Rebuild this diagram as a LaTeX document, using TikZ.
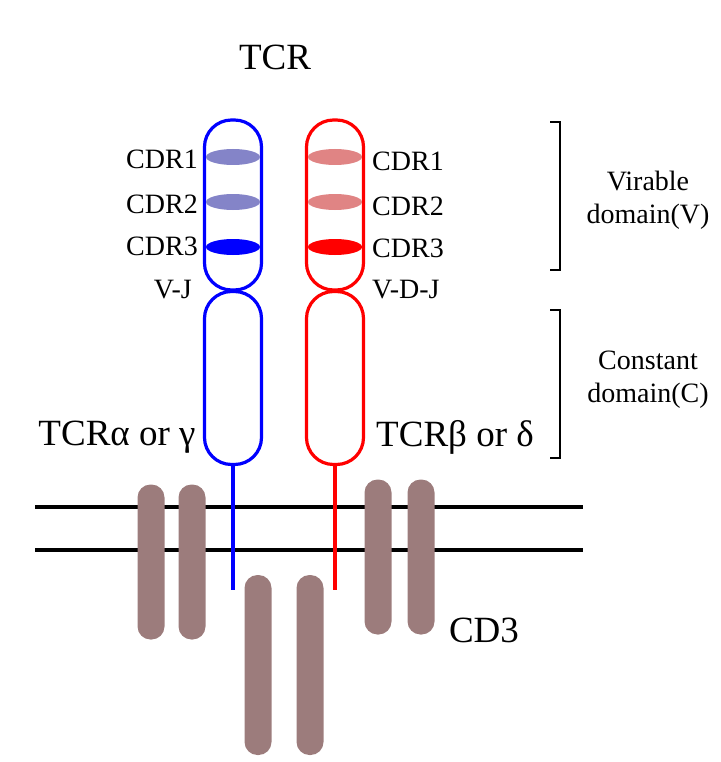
\documentclass[tikz,border=0pt]{standalone}
\usepackage{fontspec}
\setmainfont{Liberation Serif}
\usetikzlibrary{shapes.geometric}
\begin{document}
\begin{tikzpicture}[x=1pt,y=-1pt,
 dom/.style={draw,line width=3.2pt,rounded corners=27pt,minimum width=57pt,inner sep=0pt},
 cdr/.style={ellipse,minimum width=54pt,minimum height=16pt,inner sep=0pt},
 cd3/.style={fill=cdc,rounded corners=13pt,minimum width=27pt,inner sep=0pt},
 lab/.style={font=\fontsize{28}{33}\selectfont,inner sep=0pt},
 big/.style={font=\fontsize{37}{40}\selectfont,inner sep=0pt}]
\definecolor{cdc}{HTML}{9C7C7C}
\definecolor{lb}{HTML}{8484C8}
\definecolor{lr}{HTML}{E08484}
\useasboundingbox (0,0) rectangle (720,762);
% membrane
\coordinate (m1a) at (35,507); \coordinate (m1b) at (583,507);
\coordinate (m2a) at (35,550); \coordinate (m2b) at (583,550);
\draw[line width=3.2pt] (m1a)--(m1b); \draw[line width=3.2pt] (m2a)--(m2b);
% CD3
\node[cd3,minimum height=155pt] (c1) at (151,562) {};
\node[cd3,minimum height=155pt] (c2) at (192,562) {};
\node[cd3,minimum height=180pt] (c3) at (258,665) {};
\node[cd3,minimum height=180pt] (c4) at (310,665) {};
\node[cd3,minimum height=155pt] (c5) at (378,557) {};
\node[cd3,minimum height=155pt] (c6) at (421,557) {};
\node[big] (cd3t) at (484,630) {CD3};
% blue chain
\node[dom,blue,minimum height=170pt] (bv) at (233,205) {};
\node[dom,blue,minimum height=173pt] (bc) at (233,378) {};
\coordinate (bs) at (233,590);
\draw[blue,line width=3.2pt] (bc.south)--(bs);
\node[cdr,fill=lb] (b1) at (233,157) {};
\node[cdr,fill=lb] (b2) at (233,202) {};
\node[cdr,fill=blue] (b3) at (233,247) {};
% red chain
\node[dom,red,minimum height=170pt] (rv) at (335,205) {};
\node[dom,red,minimum height=173pt] (rc) at (335,378) {};
\coordinate (rs) at (335,590);
\draw[red,line width=3.2pt] (rc.south)--(rs);
\node[cdr,fill=lr] (r1) at (335,157) {};
\node[cdr,fill=lr] (r2) at (335,202) {};
\node[cdr,fill=red] (r3) at (335,247) {};
% labels
\node[big] (tcr) at (275,57) {TCR};
\node[lab,anchor=east] at (198,159) {CDR1};
\node[lab,anchor=east] at (198,204) {CDR2};
\node[lab,anchor=east] at (198,246) {CDR3};
\node[lab,anchor=east] at (192,290) {V-J};
\node[lab,anchor=west] at (372,161) {CDR1};
\node[lab,anchor=west] at (372,206) {CDR2};
\node[lab,anchor=west] at (372,248) {CDR3};
\node[lab,anchor=west] at (372,290) {V-D-J};
\node[big] at (117,437) {TCRα or γ};
\node[big] at (455,437) {TCRβ or δ};
% brackets
\draw[line width=2.6pt] (550,122)--(560,122)--(560,270)--(550,270);
\draw[line width=2.6pt] (550,310)--(560,310)--(560,458)--(550,458);
\node[lab,align=center] at (648,200) {Virable\\domain(V)};
\node[lab,align=center] at (648,380) {Constant\\domain(C)};
\end{tikzpicture}
\end{document}
